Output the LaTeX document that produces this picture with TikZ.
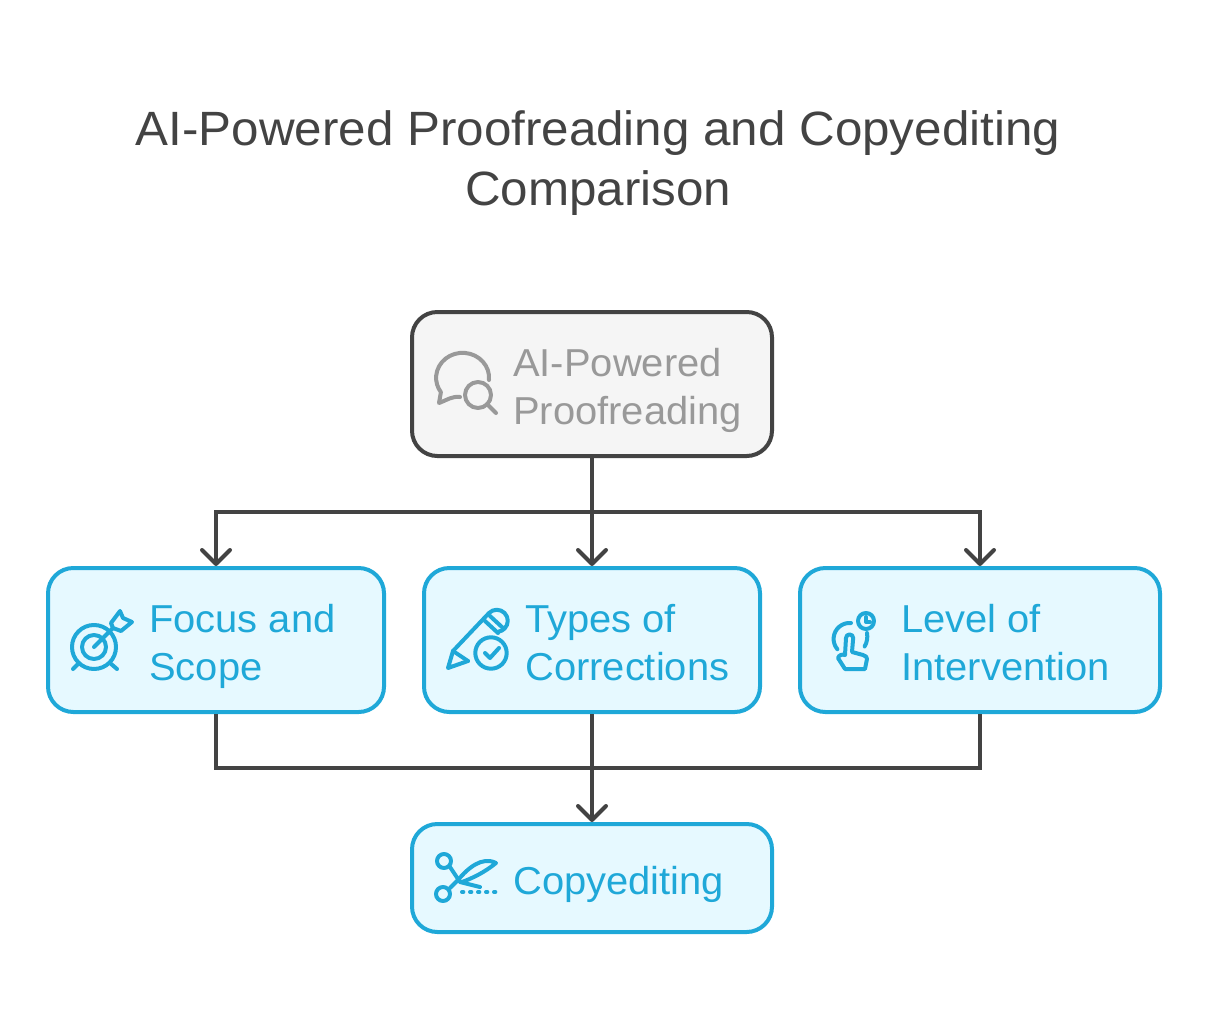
\documentclass[tikz,border=0pt]{standalone}
\usepackage{fontspec}
\setmainfont[FakeStretch=1.025]{Liberation Sans}
\usetikzlibrary{arrows.meta}
\definecolor{ink}{HTML}{434343}
\definecolor{sky}{HTML}{1FA8D8}
\definecolor{skyfill}{HTML}{E6F9FF}
\definecolor{mute}{HTML}{999999}
\definecolor{mutefill}{HTML}{F5F5F5}
\tikzset{
  x=0.75pt,y=-0.75pt,
  box/.style={draw=sky,fill=skyfill,line width=3pt,rounded corners=19pt,minimum height=#1*0.75pt,inner sep=0pt},
  greybox/.style={draw=ink,fill=mutefill,line width=3pt,rounded corners=19pt,inner sep=0pt},
  lab/.style={anchor=west,align=left,inner sep=0pt,text=sky,font=\fontsize{29.2pt}{36pt}\selectfont},
  link/.style={draw=ink,line width=3pt},
  tiplink/.style={link,-{Straight Barb[length=10.5pt,width=21pt,round,line width=3pt]}},
  iconb/.style={draw=sky,line width=3pt,line cap=round,line join=round},
  icong/.style={draw=mute,line width=3pt,line cap=round,line join=round},
}
\begin{document}
\begin{tikzpicture}
\useasboundingbox (0,0) rectangle (1208,1028);
\node[anchor=center,align=center,text=ink,font=\fontsize{36.1pt}{45pt}\selectfont] (title) at (598,163) {\strut AI-Powered Proofreading and Copyediting\\\strut Comparison};
% boxes
\node[greybox,minimum width=270pt,minimum height=108pt] (top) at (592,384) {};
\node[box=144,minimum width=252pt] (a) at (216,640) {};
\node[box=144,minimum width=252pt] (b) at (592,640) {};
\node[box=144,minimum width=270pt] (c) at (980,640) {};
\node[box=108,minimum width=270pt] (bot) at (592,878) {};
% labels
\node[lab,text=mute] (tt) at (513,391) {\strut AI-Powered\\\strut Proofreading};
\node[lab] (ta) at (149,647) {\strut Focus and\\\strut Scope};
\node[lab] (tb) at (525,647) {\strut Types of\\\strut Corrections};
\node[lab] (tc) at (901,647) {\strut Level of\\\strut Intervention};
\node[lab] (td) at (513,885) {\strut Copyediting};
% connectors
\coordinate (j1) at (592,512);
\coordinate (j2) at (592,768);
\draw[tiplink] (top.south) -- (j1) -| (a.north);
\draw[tiplink] (top.south) -- (b.north);
\draw[tiplink] (j1) -| (c.north);
\draw[link] (a.south) |- (j2);
\draw[link] (c.south) |- (j2);
\draw[link] (b.south) -- (j2);
\draw[tiplink] (j2) -- (bot.north);
% chat icon
\draw[icong] (489,380) arc (5:-215:26.5 and 25) -- (439,403) .. controls (447,400) and (452,396) .. (460,397);
\draw[icong] (478,395) circle (13);
\draw[icong] (487,404) -- (496,413);
% target icon
\draw[iconb] (94,647) circle (22);
\draw[iconb] (94,647) circle (12);
\draw[iconb] (94,647) -- (113,628);
\draw[iconb] (111,623) -- (120,611) -- (123,618) -- (132,622) -- (121,631) -- (113,628) -- cycle;
\draw[iconb] (73,669) -- (79,663);
\draw[iconb] (117,669) -- (110,663);
% pencil icon
\draw[iconb] (468,661) -- (448,668) -- (453,651) -- (489,613) arc (-135:80:11);
\draw[iconb] (453,651) -- (468,661);
\draw[iconb] (485,621) -- (498,633);
\draw[iconb] (490,616) -- (503,628);
\draw[iconb] (491,653) circle (15.7);
\draw[iconb] (485,653) -- (490,658) -- (499,648);
% hand icon
\draw[iconb] (866,621) circle (8);
\draw[iconb] (866,617) -- (866,622) -- (870,622);
\draw[iconb] (851,623) arc (-85:-220:16);
\draw[iconb] (867,633) arc (-10:30:20);
\draw[iconb] (845,655) -- (846,638) arc (-180:0:3.6) -- (852,652) -- (863,655) .. controls (866,656) and (867,657) .. (867,659) -- (865,669) -- (845,669) -- (838,658) .. controls (839,655) and (842,654) .. (845,655);
% scissors icon
\draw[iconb] (444,861) circle (7);
\draw[iconb] (443,894) circle (7);
\draw[iconb] (450,867) -- (460,882) -- (480,887);
\draw[iconb] (450,888) -- (458,880) .. controls (468,868) and (482,856) .. (496,863) .. controls (485,872) and (473,878) .. (462,882);
\draw[iconb,dash pattern=on 1pt off 5pt] (462,892) -- (496,892);
\end{tikzpicture}
\end{document}
